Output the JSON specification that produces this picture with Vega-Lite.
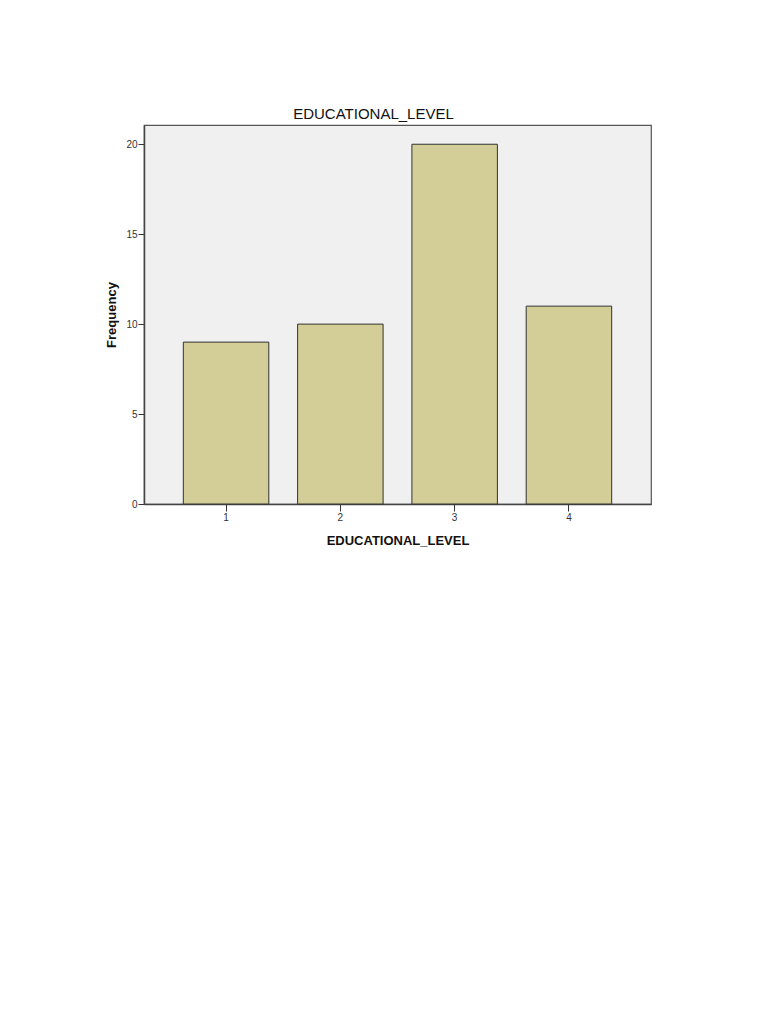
{
  "$schema": "https://vega.github.io/schema/vega-lite/v6.json",
  "autosize": "none",
  "width": 507,
  "height": 379,
  "padding": {"left": 144, "top": 125, "right": 117, "bottom": 520},
  "background": "white",
  "title": {
    "text": "EDUCATIONAL_LEVEL",
    "font": "Liberation Sans",
    "fontSize": 15,
    "fontWeight": "normal",
    "color": "#111",
    "anchor": "middle",
    "dx": -24,
    "offset": 3
  },
  "data": {
    "values": [
      {"level": "1", "count": 9},
      {"level": "2", "count": 10},
      {"level": "3", "count": 20},
      {"level": "4", "count": 11}
    ]
  },
  "mark": {"type": "bar", "fill": "#d3ce97", "stroke": "#333", "strokeWidth": 1},
  "encoding": {
    "x": {
      "field": "level", "type": "ordinal",
      "scale": {"paddingInner": 0.252, "paddingOuter": 0.344},
      "axis": {
        "title": "EDUCATIONAL_LEVEL", "labelAngle": 0,
        "titleFont": "Liberation Sans", "titleFontSize": 13, "titleFontWeight": "bold",
        "titleColor": "#111", "titlePadding": 12,
        "labelFont": "Liberation Sans", "labelFontSize": 10, "labelColor": "#333",
        "labelPadding": 1,
        "tickSize": 7, "tickColor": "#333", "domainColor": "#444", "domainWidth": 1.5
      }
    },
    "y": {
      "field": "count", "type": "quantitative",
      "scale": {"domain": [0, 21.07], "nice": false},
      "axis": {
        "title": "Frequency", "values": [0, 5, 10, 15, 20], "grid": false,
        "titleFont": "Liberation Sans", "titleFontSize": 13, "titleFontWeight": "bold",
        "titleColor": "#111", "titlePadding": 7,
        "labelFont": "Liberation Sans", "labelFontSize": 10, "labelColor": "#333",
        "labelPadding": 1,
        "tickSize": 6, "tickColor": "#333", "domainColor": "#444", "domainWidth": 1.5
      }
    }
  },
  "config": {
    "view": {"fill": "#f0f0f0", "stroke": "#555", "strokeWidth": 1.2}
  }
}
